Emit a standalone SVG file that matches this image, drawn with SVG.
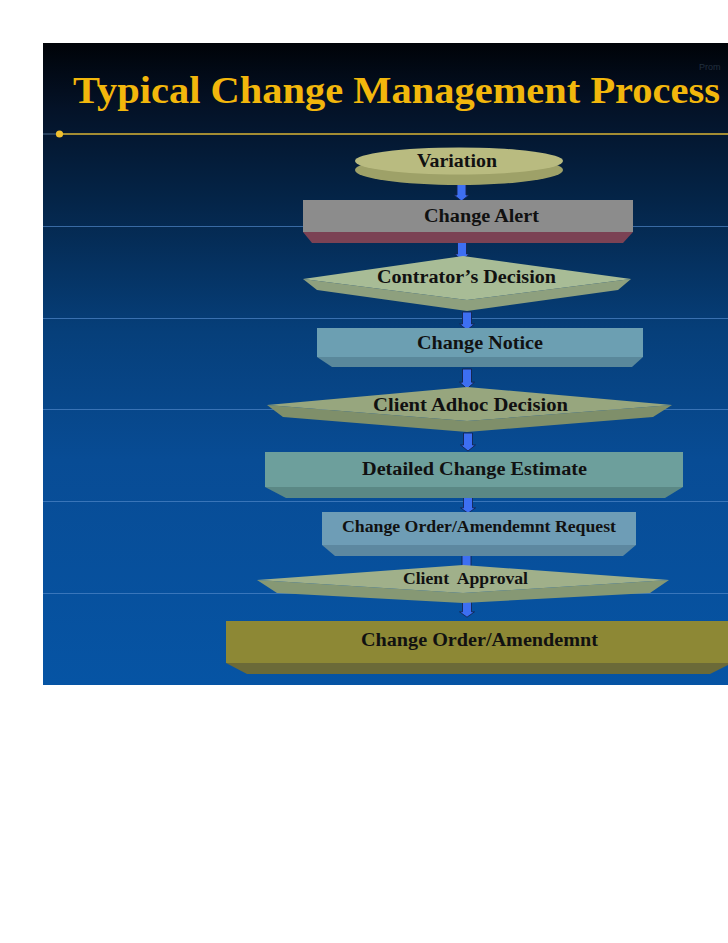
<svg xmlns="http://www.w3.org/2000/svg" width="728" height="943" viewBox="0 0 728 943">
<defs>
<linearGradient id="bg" x1="0" y1="43" x2="0" y2="685" gradientUnits="userSpaceOnUse">
<stop offset="0" stop-color="#000308"/>
<stop offset="0.1" stop-color="#041227"/>
<stop offset="0.25" stop-color="#042549"/>
<stop offset="0.45" stop-color="#063f7a"/>
<stop offset="0.65" stop-color="#084c95"/>
<stop offset="1" stop-color="#0654a4"/>
</linearGradient>
<path id="arr" d="M-4.5,0 H4.5 V12 H7.5 L0,18 L-7.5,12 H-4.5 Z"/>
</defs>
<style>
.lbl{font-family:"Liberation Serif","DejaVu Serif",serif;font-weight:bold;fill:#111;text-anchor:middle}
.hl{stroke:#4f86c8;stroke-width:1;opacity:0.7}
.arrow{fill:#3d6ff2;stroke:#14254f;stroke-width:0.9}
</style>
<rect width="728" height="943" fill="#ffffff"/>
<rect x="43" y="43" width="685" height="642" fill="url(#bg)"/>
<g id="bg-lines">
<line class="hl" x1="43" y1="226.5" x2="728" y2="226.5"/>
<line class="hl" x1="43" y1="318.5" x2="728" y2="318.5" opacity="0.25"/>
<line class="hl" x1="43" y1="409.5" x2="728" y2="409.5"/>
<line class="hl" x1="43" y1="501.5" x2="728" y2="501.5"/>
<line class="hl" x1="43" y1="593.5" x2="728" y2="593.5"/>
</g>
<g id="title">
<text x="73" y="103" font-family="'Liberation Serif','DejaVu Serif',serif" font-weight="bold" font-size="38" fill="#f2b70c" textLength="647" lengthAdjust="spacingAndGlyphs">Typical Change Management Process</text>
<text x="699" y="70" font-family="'Liberation Sans',sans-serif" font-size="9" fill="#22303f">Prom</text>
<line x1="43" y1="134" x2="56" y2="134" stroke="#4a6a8a" stroke-width="1"/>
<line x1="60" y1="134" x2="728" y2="134" stroke="#d8b535" stroke-width="1.5"/>
<circle cx="59.5" cy="134" r="3.6" fill="#f0c030"/>
</g>
<g id="connectors">
<use href="#arr" class="arrow" transform="translate(461.5,183)"/>
<use href="#arr" class="arrow" transform="translate(462,242)"/>
<use href="#arr" class="arrow" transform="translate(467,312)"/>
<use href="#arr" class="arrow" transform="translate(467,369) scale(1,1.1)"/>
<use href="#arr" class="arrow" transform="translate(468,433)"/>
<use href="#arr" class="arrow" transform="translate(468,497) scale(1,0.9)"/>
<use href="#arr" class="arrow" transform="translate(466.5,555)"/>
<use href="#arr" class="arrow" transform="translate(467,601) scale(1,0.9)"/>
</g>
<g id="variation">
<ellipse cx="459" cy="170" rx="104" ry="15" fill="#9ea168"/>
<ellipse cx="459" cy="161" rx="104" ry="13.5" fill="#b9bb80"/>
<text class="lbl" x="457" y="167" font-size="18" textLength="80" lengthAdjust="spacingAndGlyphs">Variation</text>
</g>
<g id="change-alert">
<polygon points="303,232 633,232 623,243 312,243" fill="#7b4254"/>
<rect x="303" y="200" width="330" height="32" fill="#8c8c8c"/>
<text class="lbl" x="481.5" y="222" font-size="18.5" textLength="115" lengthAdjust="spacingAndGlyphs">Change Alert</text>
</g>
<g id="contractors-decision">
<polygon points="303,279 467,300 631,279 618,290 467,311 317,290" fill="#8ea07e"/>
<polygon points="303,279 463,256 631,279 467,300" fill="#a8bc96"/>
<text class="lbl" x="466.5" y="283" font-size="18" textLength="179" lengthAdjust="spacingAndGlyphs">Contrator’s Decision</text>
</g>
<g id="change-notice">
<polygon points="317,357 643,357 632,367 332,367" fill="#5a889b"/>
<rect x="317" y="328" width="326" height="29" fill="#6c9fb2"/>
<text class="lbl" x="480" y="349" font-size="18" textLength="126" lengthAdjust="spacingAndGlyphs">Change Notice</text>
</g>
<g id="client-adhoc-decision">
<polygon points="267,405 467,421 672,405 653,417 467,432 283,417" fill="#7f8f6a"/>
<polygon points="267,405 467,387 672,405 467,421" fill="#97a67e"/>
<text class="lbl" x="470.5" y="411" font-size="18" textLength="195" lengthAdjust="spacingAndGlyphs">Client Adhoc Decision</text>
</g>
<g id="detailed-change-estimate">
<polygon points="265,487 683,487 665,498 286,498" fill="#5b8885"/>
<rect x="265" y="452" width="418" height="35" fill="#6d9f9c"/>
<text class="lbl" x="474.5" y="475" font-size="18" textLength="225" lengthAdjust="spacingAndGlyphs">Detailed Change Estimate</text>
</g>
<g id="change-order-request">
<polygon points="322,545 636,545 623,556 335,556" fill="#5d88a0"/>
<rect x="322" y="512" width="314" height="33" fill="#6e9db6"/>
<text class="lbl" x="479" y="532" font-size="16" textLength="274" lengthAdjust="spacingAndGlyphs">Change Order/Amendemnt Request</text>
</g>
<g id="client-approval">
<polygon points="257,580 463,593 669,580 650,593 463,603 277,593" fill="#869874"/>
<polygon points="257,580 463,565 669,580 463,593" fill="#a0b08a"/>
<text class="lbl" x="465.5" y="584" font-size="16" textLength="125" lengthAdjust="spacingAndGlyphs" xml:space="preserve">Client  Approval</text>
</g>
<g id="change-order">
<polygon points="226,663 728,663 728,665 710,674 247,674" fill="#6b6a38"/>
<rect x="226" y="621" width="502" height="42" fill="#8d8835"/>
<text class="lbl" x="479.5" y="646" font-size="18.5" textLength="237" lengthAdjust="spacingAndGlyphs">Change Order/Amendemnt</text>
</g>
</svg>
